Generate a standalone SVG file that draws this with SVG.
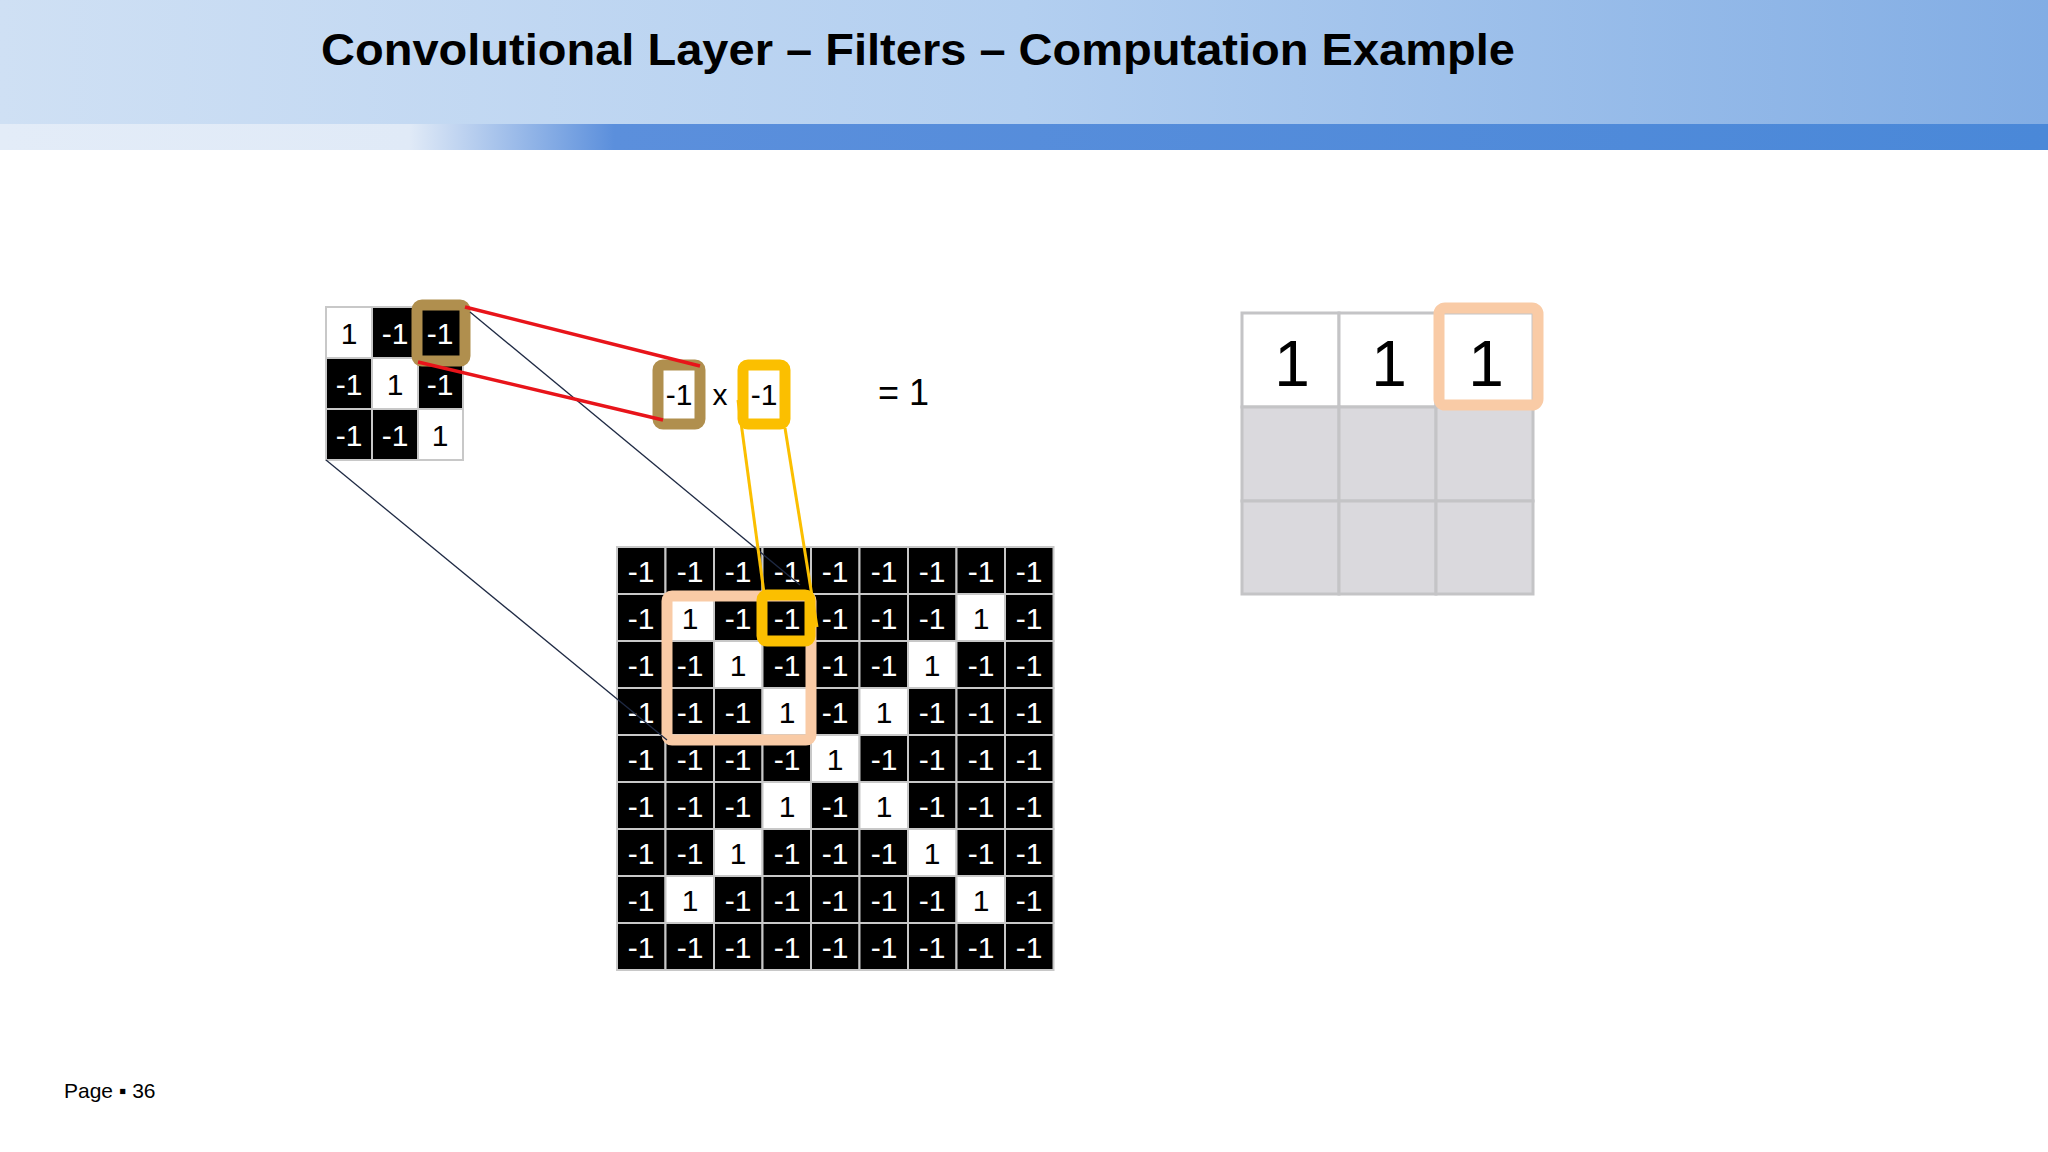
<svg xmlns="http://www.w3.org/2000/svg" width="2048" height="1152" viewBox="0 0 2048 1152">
<defs>
<linearGradient id="hdr" x1="0" y1="0" x2="1" y2="0">
<stop offset="0" stop-color="#cfe0f4"/><stop offset="0.5" stop-color="#b3cff0"/><stop offset="1" stop-color="#82ade4"/>
</linearGradient>
<linearGradient id="band" x1="0" y1="0" x2="1" y2="0">
<stop offset="0" stop-color="#e3ecf8"/><stop offset="0.2" stop-color="#e0eaf7"/><stop offset="0.3" stop-color="#5b8fdc"/><stop offset="1" stop-color="#4a88d8"/>
</linearGradient>
</defs>
<style>
.t{font-family:"Liberation Sans",Arial,sans-serif;text-anchor:middle;}
.b{fill:#000;stroke:#c8c8c8;stroke-width:2}
.w{fill:#fff;stroke:#c8c8c8;stroke-width:2}
.tw{fill:#fff;font-size:30px}
.tb{fill:#000;font-size:30px}
.g{fill:#dad9dd;stroke:#c4c4c6;stroke-width:3}
</style>
<rect width="2048" height="1152" fill="#fff"/>
<rect width="2048" height="124" fill="url(#hdr)"/>
<rect y="124" width="2048" height="26" fill="url(#band)"/>
<text x="321" y="65" font-family="Liberation Sans,Arial,sans-serif" font-weight="bold" font-size="44" textLength="1194" lengthAdjust="spacingAndGlyphs">Convolutional Layer – Filters – Computation Example</text>

<g id="filter">
<rect class="w" x="326" y="307" width="46" height="51"/><text class="t tb" x="349" y="344">1</text>
<rect class="b" x="372" y="307" width="46" height="51"/><text class="t tw" x="395" y="344">-1</text>
<rect class="b" x="418" y="307" width="45" height="51"/><text class="t tw" x="440" y="344">-1</text>
<rect class="b" x="326" y="358" width="46" height="51"/><text class="t tw" x="349" y="395">-1</text>
<rect class="w" x="372" y="358" width="46" height="51"/><text class="t tb" x="395" y="395">1</text>
<rect class="b" x="418" y="358" width="45" height="51"/><text class="t tw" x="440" y="395">-1</text>
<rect class="b" x="326" y="409" width="46" height="51"/><text class="t tw" x="349" y="446">-1</text>
<rect class="b" x="372" y="409" width="46" height="51"/><text class="t tw" x="395" y="446">-1</text>
<rect class="w" x="418" y="409" width="45" height="51"/><text class="t tb" x="440" y="446">1</text>
<rect x="417" y="305" width="48" height="56" rx="5" fill="none" stroke="#b08f4e" stroke-width="11"/>
</g>

<g id="image">
<g id="cells"></g>
</g>
<g id="imagegrid">
<!-- row 0 -->
<g>
<rect class="b" x="617" y="547" width="48.5" height="47"/><text class="t tw" x="641" y="582">-1</text>
<rect class="b" x="665.5" y="547" width="48.5" height="47"/><text class="t tw" x="690" y="582">-1</text>
<rect class="b" x="714" y="547" width="48.5" height="47"/><text class="t tw" x="738" y="582">-1</text>
<rect class="b" x="762.5" y="547" width="48.5" height="47"/><text class="t tw" x="787" y="582">-1</text>
<rect class="b" x="811" y="547" width="48.5" height="47"/><text class="t tw" x="835" y="582">-1</text>
<rect class="b" x="859.5" y="547" width="48.5" height="47"/><text class="t tw" x="884" y="582">-1</text>
<rect class="b" x="908" y="547" width="48.5" height="47"/><text class="t tw" x="932" y="582">-1</text>
<rect class="b" x="956.5" y="547" width="48.5" height="47"/><text class="t tw" x="981" y="582">-1</text>
<rect class="b" x="1005" y="547" width="48.5" height="47"/><text class="t tw" x="1029" y="582">-1</text>
</g>
<!-- row 1 -->
<g>
<rect class="b" x="617" y="594" width="48.5" height="47"/><text class="t tw" x="641" y="629">-1</text>
<rect class="w" x="665.5" y="594" width="48.5" height="47"/><text class="t tb" x="690" y="629">1</text>
<rect class="b" x="714" y="594" width="48.5" height="47"/><text class="t tw" x="738" y="629">-1</text>
<rect class="b" x="762.5" y="594" width="48.5" height="47"/><text class="t tw" x="787" y="629">-1</text>
<rect class="b" x="811" y="594" width="48.5" height="47"/><text class="t tw" x="835" y="629">-1</text>
<rect class="b" x="859.5" y="594" width="48.5" height="47"/><text class="t tw" x="884" y="629">-1</text>
<rect class="b" x="908" y="594" width="48.5" height="47"/><text class="t tw" x="932" y="629">-1</text>
<rect class="w" x="956.5" y="594" width="48.5" height="47"/><text class="t tb" x="981" y="629">1</text>
<rect class="b" x="1005" y="594" width="48.5" height="47"/><text class="t tw" x="1029" y="629">-1</text>
</g>
<!-- row 2 -->
<g>
<rect class="b" x="617" y="641" width="48.5" height="47"/><text class="t tw" x="641" y="676">-1</text>
<rect class="b" x="665.5" y="641" width="48.5" height="47"/><text class="t tw" x="690" y="676">-1</text>
<rect class="w" x="714" y="641" width="48.5" height="47"/><text class="t tb" x="738" y="676">1</text>
<rect class="b" x="762.5" y="641" width="48.5" height="47"/><text class="t tw" x="787" y="676">-1</text>
<rect class="b" x="811" y="641" width="48.5" height="47"/><text class="t tw" x="835" y="676">-1</text>
<rect class="b" x="859.5" y="641" width="48.5" height="47"/><text class="t tw" x="884" y="676">-1</text>
<rect class="w" x="908" y="641" width="48.5" height="47"/><text class="t tb" x="932" y="676">1</text>
<rect class="b" x="956.5" y="641" width="48.5" height="47"/><text class="t tw" x="981" y="676">-1</text>
<rect class="b" x="1005" y="641" width="48.5" height="47"/><text class="t tw" x="1029" y="676">-1</text>
</g>
<!-- row 3 -->
<g>
<rect class="b" x="617" y="688" width="48.5" height="47"/><text class="t tw" x="641" y="723">-1</text>
<rect class="b" x="665.5" y="688" width="48.5" height="47"/><text class="t tw" x="690" y="723">-1</text>
<rect class="b" x="714" y="688" width="48.5" height="47"/><text class="t tw" x="738" y="723">-1</text>
<rect class="w" x="762.5" y="688" width="48.5" height="47"/><text class="t tb" x="787" y="723">1</text>
<rect class="b" x="811" y="688" width="48.5" height="47"/><text class="t tw" x="835" y="723">-1</text>
<rect class="w" x="859.5" y="688" width="48.5" height="47"/><text class="t tb" x="884" y="723">1</text>
<rect class="b" x="908" y="688" width="48.5" height="47"/><text class="t tw" x="932" y="723">-1</text>
<rect class="b" x="956.5" y="688" width="48.5" height="47"/><text class="t tw" x="981" y="723">-1</text>
<rect class="b" x="1005" y="688" width="48.5" height="47"/><text class="t tw" x="1029" y="723">-1</text>
</g>
<!-- row 4 -->
<g>
<rect class="b" x="617" y="735" width="48.5" height="47"/><text class="t tw" x="641" y="770">-1</text>
<rect class="b" x="665.5" y="735" width="48.5" height="47"/><text class="t tw" x="690" y="770">-1</text>
<rect class="b" x="714" y="735" width="48.5" height="47"/><text class="t tw" x="738" y="770">-1</text>
<rect class="b" x="762.5" y="735" width="48.5" height="47"/><text class="t tw" x="787" y="770">-1</text>
<rect class="w" x="811" y="735" width="48.5" height="47"/><text class="t tb" x="835" y="770">1</text>
<rect class="b" x="859.5" y="735" width="48.5" height="47"/><text class="t tw" x="884" y="770">-1</text>
<rect class="b" x="908" y="735" width="48.5" height="47"/><text class="t tw" x="932" y="770">-1</text>
<rect class="b" x="956.5" y="735" width="48.5" height="47"/><text class="t tw" x="981" y="770">-1</text>
<rect class="b" x="1005" y="735" width="48.5" height="47"/><text class="t tw" x="1029" y="770">-1</text>
</g>
<!-- row 5 -->
<g>
<rect class="b" x="617" y="782" width="48.5" height="47"/><text class="t tw" x="641" y="817">-1</text>
<rect class="b" x="665.5" y="782" width="48.5" height="47"/><text class="t tw" x="690" y="817">-1</text>
<rect class="b" x="714" y="782" width="48.5" height="47"/><text class="t tw" x="738" y="817">-1</text>
<rect class="w" x="762.5" y="782" width="48.5" height="47"/><text class="t tb" x="787" y="817">1</text>
<rect class="b" x="811" y="782" width="48.5" height="47"/><text class="t tw" x="835" y="817">-1</text>
<rect class="w" x="859.5" y="782" width="48.5" height="47"/><text class="t tb" x="884" y="817">1</text>
<rect class="b" x="908" y="782" width="48.5" height="47"/><text class="t tw" x="932" y="817">-1</text>
<rect class="b" x="956.5" y="782" width="48.5" height="47"/><text class="t tw" x="981" y="817">-1</text>
<rect class="b" x="1005" y="782" width="48.5" height="47"/><text class="t tw" x="1029" y="817">-1</text>
</g>
<!-- row 6 -->
<g>
<rect class="b" x="617" y="829" width="48.5" height="47"/><text class="t tw" x="641" y="864">-1</text>
<rect class="b" x="665.5" y="829" width="48.5" height="47"/><text class="t tw" x="690" y="864">-1</text>
<rect class="w" x="714" y="829" width="48.5" height="47"/><text class="t tb" x="738" y="864">1</text>
<rect class="b" x="762.5" y="829" width="48.5" height="47"/><text class="t tw" x="787" y="864">-1</text>
<rect class="b" x="811" y="829" width="48.5" height="47"/><text class="t tw" x="835" y="864">-1</text>
<rect class="b" x="859.5" y="829" width="48.5" height="47"/><text class="t tw" x="884" y="864">-1</text>
<rect class="w" x="908" y="829" width="48.5" height="47"/><text class="t tb" x="932" y="864">1</text>
<rect class="b" x="956.5" y="829" width="48.5" height="47"/><text class="t tw" x="981" y="864">-1</text>
<rect class="b" x="1005" y="829" width="48.5" height="47"/><text class="t tw" x="1029" y="864">-1</text>
</g>
<!-- row 7 -->
<g>
<rect class="b" x="617" y="876" width="48.5" height="47"/><text class="t tw" x="641" y="911">-1</text>
<rect class="w" x="665.5" y="876" width="48.5" height="47"/><text class="t tb" x="690" y="911">1</text>
<rect class="b" x="714" y="876" width="48.5" height="47"/><text class="t tw" x="738" y="911">-1</text>
<rect class="b" x="762.5" y="876" width="48.5" height="47"/><text class="t tw" x="787" y="911">-1</text>
<rect class="b" x="811" y="876" width="48.5" height="47"/><text class="t tw" x="835" y="911">-1</text>
<rect class="b" x="859.5" y="876" width="48.5" height="47"/><text class="t tw" x="884" y="911">-1</text>
<rect class="b" x="908" y="876" width="48.5" height="47"/><text class="t tw" x="932" y="911">-1</text>
<rect class="w" x="956.5" y="876" width="48.5" height="47"/><text class="t tb" x="981" y="911">1</text>
<rect class="b" x="1005" y="876" width="48.5" height="47"/><text class="t tw" x="1029" y="911">-1</text>
</g>
<!-- row 8 -->
<g>
<rect class="b" x="617" y="923" width="48.5" height="47"/><text class="t tw" x="641" y="958">-1</text>
<rect class="b" x="665.5" y="923" width="48.5" height="47"/><text class="t tw" x="690" y="958">-1</text>
<rect class="b" x="714" y="923" width="48.5" height="47"/><text class="t tw" x="738" y="958">-1</text>
<rect class="b" x="762.5" y="923" width="48.5" height="47"/><text class="t tw" x="787" y="958">-1</text>
<rect class="b" x="811" y="923" width="48.5" height="47"/><text class="t tw" x="835" y="958">-1</text>
<rect class="b" x="859.5" y="923" width="48.5" height="47"/><text class="t tw" x="884" y="958">-1</text>
<rect class="b" x="908" y="923" width="48.5" height="47"/><text class="t tw" x="932" y="958">-1</text>
<rect class="b" x="956.5" y="923" width="48.5" height="47"/><text class="t tw" x="981" y="958">-1</text>
<rect class="b" x="1005" y="923" width="48.5" height="47"/><text class="t tw" x="1029" y="958">-1</text>
</g>
<rect x="667" y="596" width="144" height="144" rx="5" fill="none" stroke="#f9cba6" stroke-width="11"/>
<rect x="762" y="595" width="48" height="46" rx="5" fill="none" stroke="#fbbf00" stroke-width="11"/>
</g>

<g id="equation">
<rect x="658" y="365" width="42" height="59" rx="5" fill="#fff" stroke="#b08f4e" stroke-width="11"/>
<text class="t tb" x="679" y="405" font-size="36">-1</text>
<text class="t tb" x="720" y="405" font-size="36">x</text>
<rect x="743" y="365" width="42" height="59" rx="5" fill="#fff" stroke="#fbbf00" stroke-width="11"/>
<text class="t tb" x="764" y="405" font-size="36">-1</text>
<text x="878" y="405" font-family="Liberation Sans,Arial,sans-serif" font-size="36">= 1</text>
</g>

<g id="output">
<rect x="1242" y="313" width="97" height="94" fill="#fff" stroke="#c4c4c6" stroke-width="3"/>
<rect x="1339" y="313" width="97" height="94" fill="#fff" stroke="#c4c4c6" stroke-width="3"/>
<rect x="1436" y="313" width="97" height="94" fill="#fff" stroke="#c4c4c6" stroke-width="3"/>
<rect class="g" x="1242" y="407" width="97" height="94"/>
<rect class="g" x="1339" y="407" width="97" height="94"/>
<rect class="g" x="1436" y="407" width="97" height="94"/>
<rect class="g" x="1242" y="501" width="97" height="93"/>
<rect class="g" x="1339" y="501" width="97" height="93"/>
<rect class="g" x="1436" y="501" width="97" height="93"/>
<text class="t" x="1292" y="386" font-size="64">1</text>
<text class="t" x="1389" y="386" font-size="64">1</text>
<text class="t" x="1486" y="386" font-size="64">1</text>
<rect x="1439" y="308" width="99" height="97" rx="6" fill="none" stroke="#f9cba6" stroke-width="11"/>
</g>

<g id="connectors" fill="none">
<line x1="470" y1="312" x2="800" y2="585" stroke="#1f2a44" stroke-width="1.3"/>
<line x1="326" y1="460" x2="667" y2="740" stroke="#1f2a44" stroke-width="1.3"/>
<line x1="465" y1="307" x2="700" y2="366" stroke="#e8141a" stroke-width="3.5"/>
<line x1="418" y1="362" x2="663" y2="420" stroke="#e8141a" stroke-width="3.5"/>
<line x1="738" y1="400" x2="764" y2="593" stroke="#fbbf00" stroke-width="3"/>
<line x1="785" y1="428" x2="817" y2="627" stroke="#fbbf00" stroke-width="3"/>
</g>

<text x="64" y="1098" font-family="Liberation Sans,Arial,sans-serif" font-size="21">Page ▪ 36</text>
</svg>
